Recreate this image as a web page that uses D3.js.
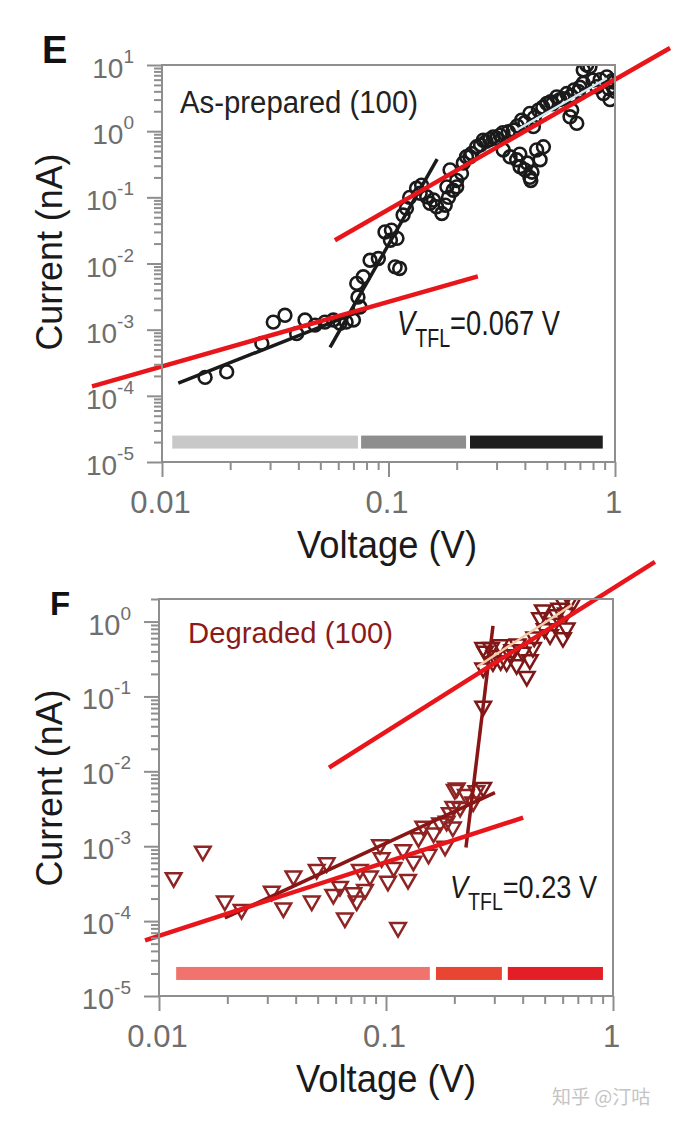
<!DOCTYPE html>
<html><head><meta charset="utf-8">
<script src="https://cdn.jsdelivr.net/npm/d3@7"></script>
<style>body{margin:0;background:#fff}svg{display:block}</style>
</head><body>
<svg id="c" width="673" height="1125"></svg>
<script>
// ---------- DATA ----------
const xTickValues = [0.01, 0.1, 1];
const xTickLabels = ["0.01", "0.1", "1"];
const eYTickExponents = [-5, -4, -3, -2, -1, 0, 1];
const fYTickExponents = [-5, -4, -3, -2, -1, 0];

// Panel E : As-prepared (100)
const eVoltage = [0.0155,0.0193,0.0276,0.031,0.0349,0.0393,0.0428,0.0474,0.0524,0.0571,0.0611,0.065,0.070,
  0.0724,0.0733,0.0748,0.0774,0.0829,0.0902,0.107,0.112,0.0965,0.103,0.109,0.102,0.116,0.120,0.124,0.133,0.140,
  0.138,0.1475,0.1525,0.158,0.163,0.172,0.178,0.184,0.181,0.193,0.200,0.210,0.214,0.221,0.233,0.187,0.200,0.229,
  0.245,0.262,0.290,0.311,0.338,0.356,0.387,0.421,0.459,0.50,0.553,0.612,0.724,0.80,0.92,0.98,0.724,0.75,0.89,0.95,
  0.321,0.344,0.368,0.381,0.40,0.421,0.436,0.451,0.425,0.483,0.467,0.633,0.678,0.644,0.775,0.83,1.0,0.99,
  0.27,0.30,0.32,0.37,0.40,0.44,0.48,0.52,0.57,0.66,0.70,0.86,0.38,0.41,0.43,
  0.53,0.59,0.64,0.69,0.94,0.97,0.255,0.28];
const eCurrent = [1.9e-4,2.3e-4,6.2e-4,1.3e-3,1.65e-3,8.7e-4,1.4e-3,1.17e-3,1.3e-3,1.4e-3,1.25e-3,1.3e-3,1.4e-3,
  5.0e-3,3.1e-3,2.2e-3,6.3e-3,0.0112,0.0119,8.9e-3,8.4e-3,0.030,0.032,0.024,0.0225,0.054,0.068,0.10,0.137,0.153,
  0.115,0.102,0.081,0.091,0.072,0.057,0.076,0.10,0.144,0.128,0.18,0.23,0.33,0.41,0.46,0.26,0.144,0.41,
  0.58,0.73,0.82,0.87,0.98,1.04,1.47,1.86,2.08,2.63,3.3,3.7,5.3,5.9,6.6,4.7,8.4,10,3.7,3.0,
  0.52,0.41,0.37,0.29,0.26,0.20,1.17,0.52,0.18,0.58,0.37,1.65,1.31,2.08,9.4,4.7,4.0,5.5,
  0.70,0.78,0.95,1.2,1.35,1.6,2.3,2.8,3.0,4.2,4.6,6.0,0.45,0.33,0.24,
  2.6,3.1,3.4,4.0,4.4,5.8,0.62,0.75];

// Panel F : Degraded (100)
const fVoltage = [0.0116,0.0156,0.0195,0.0231,0.0314,0.0353,0.0391,0.0471,0.0495,0.0548,0.0586,0.0627,0.0659,
  0.0718,0.0743,0.0767,0.0808,0.085,0.0941,0.0957,0.102,0.108,0.113,0.119,0.125,0.132,0.139,0.146,0.154,0.162,
  0.173,0.182,0.191,0.198,0.201,0.205,0.268,0.242,0.212,0.185,0.197,0.225,0.25,0.268,
  0.268,0.318,0.268,0.34,0.417,0.376,0.444,0.477,0.528,0.602,0.602,0.667,0.625,0.565,0.40,0.296,0.273,0.491,
  0.647,0.355,0.43,0.30,0.32,0.36,0.38,0.45,0.50,0.55,0.58,0.62,0.29];
const fCurrent = [3.8e-4,8.6e-4,1.85e-4,1.43e-4,2.5e-4,1.5e-4,4.0e-4,1.85e-4,4.9e-4,6.0e-4,2.27e-4,2.9e-4,1.1e-4,
  2.4e-4,1.85e-4,4.9e-4,2.65e-4,4.0e-4,1.05e-3,7.0e-4,3.4e-4,5.2e-4,8.2e-5,9.0e-4,3.6e-4,6.3e-4,1.3e-3,1.85e-3,7.8e-4,1.5e-3,
  2.05e-3,1.0e-3,2.8e-3,3.4e-3,5.7e-3,6.0e-3,6.1e-3,3.9e-3,3.3e-3,2.15e-3,1.8e-3,4.9e-3,5.5e-3,0.074,
  0.45,0.49,0.24,0.29,0.185,0.265,0.45,1.12,0.665,0.61,1.83,1.83,0.82,1.23,0.39,0.29,0.40,1.43,
  1.95,0.36,0.31,0.35,0.30,0.42,0.50,0.62,0.80,0.95,1.5,1.3,0.45];

// fit lines [voltage, current] end points
const eRedLow = [[0.00491, 1.39e-4], [0.248, 6.4e-3]];
const eRedHigh = [[0.058, 0.0225], [1.75, 18.1]];
const eBlackLow = [[0.0118, 1.55e-4], [0.075, 1.9e-3]];
const eBlackSteep = [[0.0552, 5.4e-4], [0.164, 0.378]];
const eLightHigh = [[0.368, 1.04], [0.92, 6.3]];
const fRedLow = [[0.00868, 5.53e-5], [0.402, 2.41e-3]];
const fRedHigh = [[0.0561, 0.0112], [1.53, 6.25]];
const fDarkLow = [[0.0195, 1.1e-4], [0.302, 5.2e-3]];
const fDarkSteep = [[0.225, 9.6e-4], [0.296, 0.875]];
const fLightHigh = [[0.252, 0.249], [0.66, 1.67]];

// regime bars: voltage ranges
const eBars = [[0.0111, 0.0733], [0.0757, 0.220], [0.229, 0.883]];
const eBarColors = ["#c8c8c8", "#8e8e8e", "#1e1e1e"];
const fBars = [[0.0119, 0.156], [0.166, 0.324], [0.344, 0.903]];
const fBarColors = ["#f0736e", "#e84632", "#e41e26"];
const barLevel = 2e-5;

// ---------- DRAW ----------
const svg = d3.select("#c");
const FONT = "'Liberation Sans', Arial, Helvetica, sans-serif";
const GRAY = "#8e8e8e";
const LABEL = "#6e6e6e";

function drawPanel(p) {
  const x = d3.scaleLog().domain([0.01, 1]).range([p.left, p.right]);
  const y = d3.scaleLog().domain(p.yDomain).range([p.bottom, p.top]);
  const g = svg.append("g");
  const clipId = "clip" + p.id;
  svg.append("clipPath").attr("id", clipId).append("rect")
    .attr("x", p.left).attr("y", p.top).attr("width", p.right - p.left).attr("height", p.bottom - p.top);

  // regime bars
  g.append("g").selectAll("rect").data(p.bars).join("rect")
    .attr("x", d => x(d[0])).attr("width", d => x(d[1]) - x(d[0]))
    .attr("y", y(barLevel) - 6.5).attr("height", 13)
    .attr("fill", (d, i) => p.barColors[i]);

  // points
  const pts = p.vx.map((v, i) => [v, p.vy[i]]);
  const pg = g.append("g").attr("clip-path", `url(#${clipId})`);
  if (p.marker === "circle") {
    pg.selectAll("circle").data(pts).join("circle")
      .attr("cx", d => x(d[0])).attr("cy", d => y(d[1])).attr("r", 6.4)
      .attr("fill", "none").attr("stroke", "#1a1a1a").attr("stroke-width", 2.6);
  } else {
    const tri = d3.symbol().type(d3.symbolTriangle).size(105);
    pg.selectAll("path").data(pts).join("path")
      .attr("d", tri)
      .attr("transform", d => `translate(${x(d[0])},${y(d[1])}) rotate(180)`)
      .attr("fill", "none").attr("stroke", d => d[0] > 0.26 ? "#7e1818" : "#8e2424").attr("stroke-width", 2.5);
  }

  const line = d3.line().x(d => x(d[0])).y(d => y(d[1]));
  // dark fits
  p.darkFits.forEach(f => g.append("path").attr("d", line(f)).attr("stroke", p.darkColor)
    .attr("stroke-width", 3.5).attr("fill", "none"));
  g.append("path").attr("d", line(p.lightFit)).attr("stroke", p.lightColor)
    .attr("stroke-width", 2.5).attr("fill", "none");
  // red fits (not clipped)
  p.redFits.forEach(f => g.append("path").attr("d", line(f)).attr("stroke", "#e8151b")
    .attr("stroke-width", 4.5).attr("fill", "none").attr("stroke-linecap", "butt"));

  // frame
  g.append("rect").attr("x", p.left).attr("y", p.top).attr("width", p.right - p.left)
    .attr("height", p.bottom - p.top).attr("fill", "none").attr("stroke", GRAY).attr("stroke-width", 2);

  // minor ticks
  const minorX = [], minorY = [];
  [-2, -1].forEach(e => { for (let m = 2; m <= 9; m++) minorX.push(m * Math.pow(10, e)); });
  for (let e = -5; e <= 1; e++) for (let m = 2; m <= 9; m++) {
    const v = m * Math.pow(10, e);
    if (v < p.yDomain[1] * 1.0001) minorY.push(v);
  }
  const xMinor = g.append("g").attr("transform", `translate(0,${p.bottom})`)
    .call(d3.axisBottom(x).tickValues(minorX).tickSize(8).tickFormat(""));
  const yMinor = g.append("g").attr("transform", `translate(${p.left},0)`)
    .call(d3.axisLeft(y).tickValues(minorY).tickSize(8).tickFormat(""));
  // major ticks
  const xMajor = g.append("g").attr("transform", `translate(0,${p.bottom})`)
    .call(d3.axisBottom(x).tickValues(xTickValues).tickSize(15)
      .tickFormat((d, i) => xTickLabels[i]));
  const yMajor = g.append("g").attr("transform", `translate(${p.left},0)`)
    .call(d3.axisLeft(y).tickValues(p.yExp.map(e => Math.pow(10, e))).tickSize(15));
  [xMinor, yMinor, xMajor, yMajor].forEach(a => {
    a.select(".domain").remove();
    a.selectAll("line").attr("stroke", GRAY).attr("stroke-width", 2);
  });
  xMajor.selectAll("text").attr("dy", null).attr("y", 51).attr("x", -2)
    .attr("font-family", FONT).attr("font-size", 31).attr("fill", LABEL);
  yMajor.selectAll("text").each(function (d, i) {
    const t = d3.select(this);
    t.text(null).attr("dy", null).attr("x", -28).attr("y", 12.5)
      .attr("font-family", FONT).attr("font-size", p.yLabelSize).attr("fill", LABEL);
    t.append("tspan").text("10");
    t.append("tspan").text(String(p.yExp[i])).attr("font-size", 19).attr("dy", -15);
  });

  // texts
  svg.append("text").attr("x", p.letterX).attr("y", p.letterY).text(p.letter)
    .attr("font-family", FONT).attr("font-weight", "bold").attr("font-size", p.letterSize).attr("fill", "#111");
  svg.append("text").attr("x", p.titleX).attr("y", p.titleY).text(p.title)
    .attr("font-family", FONT).attr("font-size", p.titleSize).attr("fill", p.titleColor)
    .attr("textLength", p.titleLen).attr("lengthAdjust", "spacingAndGlyphs");
  // V_TFL annotation as one text with tspans
  const vt = svg.append("text").attr("x", p.vX).attr("y", p.vY)
    .attr("font-family", FONT).attr("font-size", p.vSize).attr("fill", "#1a1a1a")
    .attr("textLength", p.vLen).attr("lengthAdjust", "spacingAndGlyphs");
  vt.append("tspan").text("V").attr("font-style", "italic");
  vt.append("tspan").text("TFL").attr("font-size", p.vSize * 0.72).attr("dy", 12);
  vt.append("tspan").text(p.vText).attr("dy", -12);
  svg.append("text").attr("x", p.xTitleX).attr("y", p.bottom + 96).text("Voltage (V)")
    .attr("text-anchor", "middle").attr("font-family", FONT).attr("font-size", 38).attr("fill", "#1a1a1a")
    .attr("textLength", 180).attr("lengthAdjust", "spacingAndGlyphs");
  svg.append("text").attr("transform", `translate(62,${p.yTitleY}) rotate(-90)`).text("Current (nA)")
    .attr("text-anchor", "middle").attr("font-family", FONT).attr("font-size", 37).attr("fill", "#1a1a1a")
    .attr("textLength", 197).attr("lengthAdjust", "spacingAndGlyphs");
}

drawPanel({
  id: "E", left: 162, right: 615, top: 65, bottom: 462, yDomain: [1e-5, 10], yExp: eYTickExponents,
  yLabelSize: 28, vx: eVoltage, vy: eCurrent, marker: "circle", bars: eBars, barColors: eBarColors,
  darkFits: [eBlackLow, eBlackSteep], darkColor: "#1a1a1a", lightFit: eLightHigh, lightColor: "#d6ecf3",
  redFits: [eRedLow, eRedHigh],
  letter: "E", letterX: 42, letterY: 63, letterSize: 38,
  title: "As-prepared (100)", titleX: 180, titleY: 113, titleSize: 31, titleColor: "#222", titleLen: 238,
  vX: 397, vY: 335, vSize: 35, vText: "=0.067 V", vLen: 163,
  xTitleX: 387, yTitleY: 252
});
drawPanel({
  id: "F", left: 159, right: 613, top: 599, bottom: 996, yDomain: [1e-5, 2], yExp: fYTickExponents,
  yLabelSize: 29, vx: fVoltage, vy: fCurrent, marker: "triangle", bars: fBars, barColors: fBarColors,
  darkFits: [fDarkLow, fDarkSteep], darkColor: "#8a1515", lightFit: fLightHigh, lightColor: "#f6c8a6",
  redFits: [fRedLow, fRedHigh],
  letter: "F", letterX: 50, letterY: 615, letterSize: 33,
  title: "Degraded (100)", titleX: 188, titleY: 643, titleSize: 29, titleColor: "#8b1a1a", titleLen: 205,
  vX: 450, vY: 898, vSize: 32, vText: "=0.23 V", vLen: 147,
  xTitleX: 386, yTitleY: 788
});

svg.append("text").attr("x", 552).attr("y", 1104).text("知乎 @汀咕")
  .attr("font-family", "'Noto Sans CJK SC', sans-serif").attr("font-size", 19).attr("fill", "#c4c4c4");
</script>
</body></html>
